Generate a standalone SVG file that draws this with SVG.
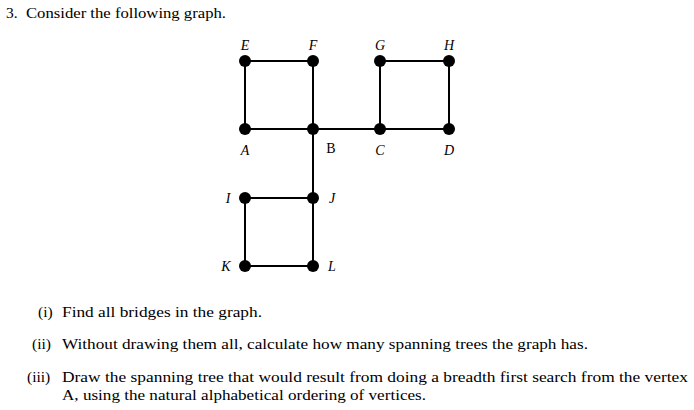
<svg xmlns="http://www.w3.org/2000/svg" width="694" height="410" viewBox="0 0 694 410">
<style>
text{font-family:"Liberation Serif","Times New Roman","DejaVu Serif",serif;font-size:15.5px;fill:#000}
.l{font-style:italic;font-size:14px;text-anchor:middle}
line{stroke:#000;stroke-width:2}
circle{fill:#000}
</style>
<rect width="694" height="410" fill="#fff"/>
<text x="6" y="18">3.</text>
<text x="26" y="18" textLength="200" lengthAdjust="spacingAndGlyphs">Consider the following graph.</text>
<g id="edges">
<line x1="245" y1="61" x2="313" y2="61"/><line x1="245" y1="61" x2="245" y2="129"/>
<line x1="313" y1="61" x2="313" y2="129"/><line x1="245" y1="129" x2="313" y2="129"/>
<line x1="313" y1="129" x2="380" y2="129"/><line x1="380" y1="61" x2="380" y2="129"/>
<line x1="380" y1="61" x2="449" y2="61"/><line x1="449" y1="61" x2="449" y2="129"/>
<line x1="380" y1="129" x2="449" y2="129"/><line x1="313" y1="129" x2="313" y2="198"/>
<line x1="245" y1="198" x2="313" y2="198"/><line x1="245" y1="198" x2="245" y2="266"/>
<line x1="245" y1="266" x2="313" y2="266"/><line x1="313" y1="198" x2="313" y2="266"/>
</g>
<g id="E"><circle cx="245" cy="61" r="6"/><text class="l" x="245" y="50">E</text></g>
<g id="F"><circle cx="313" cy="61" r="6"/><text class="l" x="313" y="50">F</text></g>
<g id="G"><circle cx="380" cy="61" r="6"/><text class="l" x="380" y="50">G</text></g>
<g id="H"><circle cx="449" cy="61" r="6"/><text class="l" x="449" y="50">H</text></g>
<g id="A"><circle cx="245" cy="129" r="6"/><text class="l" x="245" y="155">A</text></g>
<g id="B"><circle cx="313" cy="129" r="6"/><text class="l" x="331" y="153" style="font-style:normal">B</text></g>
<g id="C"><circle cx="380" cy="129" r="6"/><text class="l" x="380" y="155">C</text></g>
<g id="D"><circle cx="449" cy="129" r="6"/><text class="l" x="449" y="155">D</text></g>
<g id="I"><circle cx="245" cy="198" r="6"/><text class="l" x="228" y="203">I</text></g>
<g id="J"><circle cx="313" cy="198" r="6"/><text class="l" x="332" y="203">J</text></g>
<g id="K"><circle cx="245" cy="266" r="6"/><text class="l" x="226" y="271">K</text></g>
<g id="L"><circle cx="313" cy="266" r="6"/><text class="l" x="332" y="271">L</text></g>
<text x="38" y="317">(i)</text>
<text x="62" y="317" textLength="200" lengthAdjust="spacingAndGlyphs">Find all bridges in the graph.</text>
<text x="32" y="349">(ii)</text>
<text x="62" y="349" textLength="526" lengthAdjust="spacingAndGlyphs">Without drawing them all, calculate how many spanning trees the graph has.</text>
<text x="27" y="382">(iii)</text>
<text x="62" y="382" textLength="626" lengthAdjust="spacingAndGlyphs">Draw the spanning tree that would result from doing a breadth first search from the vertex</text>
<text x="62" y="400" textLength="364" lengthAdjust="spacingAndGlyphs">A, using the natural alphabetical ordering of vertices.</text>
</svg>
